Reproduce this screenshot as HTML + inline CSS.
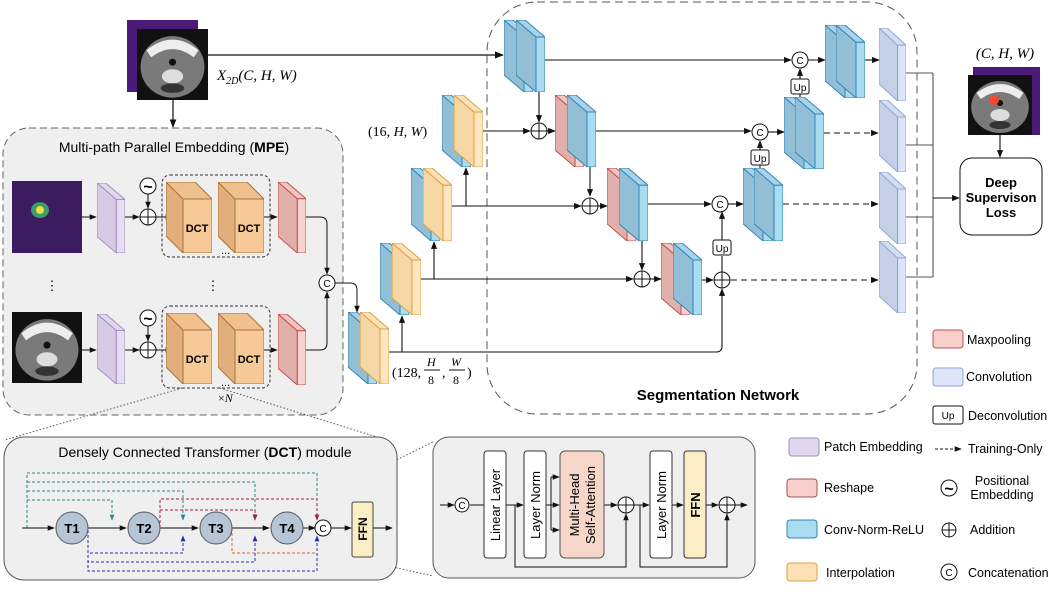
<!DOCTYPE html>
<html><head><meta charset="utf-8"><style>
html,body{margin:0;padding:0;background:#fff}
svg{display:block;font-family:"Liberation Sans",sans-serif}
</style></head><body>
<svg width="1061" height="592" viewBox="0 0 1061 592" xmlns="http://www.w3.org/2000/svg">
<defs>
<marker id="a" viewBox="0 0 10 10" refX="9" refY="5" markerWidth="7" markerHeight="7" orient="auto"><path d="M0,1 L10,5 L0,9 z" fill="#111"/></marker>
<marker id="at" viewBox="0 0 10 10" refX="9" refY="5" markerWidth="6" markerHeight="6" orient="auto"><path d="M0,1 L10,5 L0,9 z" fill="#2a8a8a"/></marker>
<marker id="ar" viewBox="0 0 10 10" refX="9" refY="5" markerWidth="6" markerHeight="6" orient="auto"><path d="M0,1 L10,5 L0,9 z" fill="#a0204a"/></marker>
<marker id="ab" viewBox="0 0 10 10" refX="9" refY="5" markerWidth="6" markerHeight="6" orient="auto"><path d="M0,1 L10,5 L0,9 z" fill="#2030b0"/></marker>
<symbol id="sb" viewBox="0 0 29 72" preserveAspectRatio="none"><g stroke="#2f86b5" stroke-width="1" vector-effect="non-scaling-stroke"><polygon points="0,0 20,17 20,72 0,55" fill="#93bfd6" vector-effect="non-scaling-stroke"/><polygon points="0,0 9,0 29,17 20,17" fill="#a8d3ea" vector-effect="non-scaling-stroke"/><rect x="20" y="17" width="9" height="55" fill="#a9dcf0" vector-effect="non-scaling-stroke"/></g></symbol>
<symbol id="so" viewBox="0 0 29 72" preserveAspectRatio="none"><g stroke="#dca040" stroke-width="1"><polygon points="0,0 20,17 20,72 0,55" fill="#f6d7a6" vector-effect="non-scaling-stroke"/><polygon points="0,0 9,0 29,17 20,17" fill="#fbe2b8" vector-effect="non-scaling-stroke"/><rect x="20" y="17" width="9" height="55" fill="#fde6c0" vector-effect="non-scaling-stroke"/></g></symbol>
<symbol id="sp" viewBox="0 0 29 72" preserveAspectRatio="none"><g stroke="#c05050" stroke-width="1"><polygon points="0,0 20,17 20,72 0,55" fill="#e2b0aa" vector-effect="non-scaling-stroke"/><polygon points="0,0 9,0 29,17 20,17" fill="#f0c4c0" vector-effect="non-scaling-stroke"/><rect x="20" y="17" width="9" height="55" fill="#f8d2cf" vector-effect="non-scaling-stroke"/></g></symbol>
<symbol id="sv" viewBox="0 0 29 72" preserveAspectRatio="none"><g stroke="#a48ebf" stroke-width="1"><polygon points="0,0 20,17 20,72 0,55" fill="#d6cae6" vector-effect="non-scaling-stroke"/><polygon points="0,0 9,0 29,17 20,17" fill="#e0d6ee" vector-effect="non-scaling-stroke"/><rect x="20" y="17" width="9" height="55" fill="#e6ddf2" vector-effect="non-scaling-stroke"/></g></symbol>
<symbol id="sc" viewBox="0 0 29 72" preserveAspectRatio="none"><g stroke="#8ea6d8" stroke-width="1"><polygon points="0,0 20,17 20,72 0,55" fill="#c4d0e6" vector-effect="non-scaling-stroke"/><polygon points="0,0 9,0 29,17 20,17" fill="#d4def2" vector-effect="non-scaling-stroke"/><rect x="20" y="17" width="9" height="55" fill="#dce6f8" vector-effect="non-scaling-stroke"/></g></symbol>
<symbol id="cube" viewBox="0 0 46 71" preserveAspectRatio="none"><g stroke="#a8743a" stroke-width="1"><polygon points="0,0 17,17 17,71 0,54" fill="#e2ae7c" vector-effect="non-scaling-stroke"/><polygon points="0,0 29,0 46,17 17,17" fill="#f0c08e" vector-effect="non-scaling-stroke"/><rect x="17" y="17" width="29" height="54" fill="#f7c997" vector-effect="non-scaling-stroke"/></g></symbol>
<symbol id="ct" viewBox="0 0 60 60" preserveAspectRatio="none"><rect width="60" height="60" fill="#111"/><ellipse cx="30" cy="32" rx="27" ry="26" fill="#7a7a7a"/><path d="M8,18 Q30,0 52,18 L48,24 Q30,10 12,24z" fill="#eee"/><ellipse cx="30" cy="40" rx="9" ry="6" fill="#ddd"/><circle cx="30" cy="28" r="3" fill="#111"/><ellipse cx="30" cy="50" rx="10" ry="4" fill="#333"/></symbol>
</defs>

<!-- top input -->
<rect x="127" y="20" width="71" height="72" fill="#4a1a78"/>
<use href="#ct" x="137" y="29" width="71" height="71"/>
<line x1="208" y1="55" x2="503" y2="55" stroke="#111" stroke-width="1.3" marker-end="url(#a)"/>
<text x="217" y="80" font-family="Liberation Serif,serif" font-style="italic" font-size="15">X<tspan font-size="10" dy="4">2D</tspan><tspan dy="-4">(C, H, W)</tspan></text>
<line x1="173" y1="100" x2="173" y2="127" stroke="#111" stroke-width="1.2" marker-end="url(#a)"/>

<!-- MPE -->
<rect x="3" y="128" width="340" height="287" rx="26" fill="#efefef" stroke="#666" stroke-dasharray="7,4"/>
<text x="174" y="152" font-size="14" text-anchor="middle">Multi-path Parallel Embedding (<tspan font-weight="bold">MPE</tspan>)</text>
<!-- row1 -->
<rect x="12" y="181" width="70" height="72" fill="#3b1c60"/>
<ellipse cx="40" cy="210" rx="9" ry="8" fill="#3e9a6a"/><ellipse cx="40" cy="210" rx="4" ry="4" fill="#e8e040"/>
<line x1="82" y1="217" x2="96" y2="217" stroke="#111" marker-end="url(#a)"/>
<use href="#sv" x="97" y="183" width="28" height="70"/>
<line x1="125" y1="217" x2="139" y2="217" stroke="#111" marker-end="url(#a)"/>
<circle cx="148" cy="186" r="8" fill="#fff" stroke="#111"/><text x="148" y="192" text-anchor="middle" font-size="16" font-weight="bold">~</text>
<line x1="148" y1="194" x2="148" y2="208" stroke="#111" marker-end="url(#a)"/>
<circle cx="148" cy="217" r="8" fill="#fff" stroke="#111"/><path d="M140,217h16M148,209v16" stroke="#111"/>
<line x1="156" y1="217" x2="172" y2="217" stroke="#111" marker-end="url(#a)"/>
<rect x="162" y="175" width="108" height="82" rx="8" fill="none" stroke="#333" stroke-dasharray="3,2"/>
<use href="#cube" x="166" y="182" width="46" height="71"/><text x="197" y="232" font-size="11" font-weight="bold" text-anchor="middle">DCT</text>
<use href="#cube" x="218" y="182" width="46" height="71"/><text x="249" y="232" font-size="11" font-weight="bold" text-anchor="middle">DCT</text>
<text x="221" y="254" font-size="11">...</text>
<line x1="264" y1="217" x2="277" y2="217" stroke="#111" marker-end="url(#a)"/>
<use href="#sp" x="278" y="182" width="28" height="71"/>
<path d="M306,217 H320 Q327,217 327,224 V274" fill="none" stroke="#111" marker-end="url(#a)"/>
<!-- row2 -->
<use href="#ct" x="12" y="312" width="70" height="71"/>
<line x1="82" y1="350" x2="96" y2="350" stroke="#111" marker-end="url(#a)"/>
<use href="#sv" x="97" y="314" width="28" height="70"/>
<line x1="125" y1="350" x2="139" y2="350" stroke="#111" marker-end="url(#a)"/>
<circle cx="148" cy="318" r="8" fill="#fff" stroke="#111"/><text x="148" y="324" text-anchor="middle" font-size="16" font-weight="bold">~</text>
<line x1="148" y1="326" x2="148" y2="341" stroke="#111" marker-end="url(#a)"/>
<circle cx="148" cy="350" r="8" fill="#fff" stroke="#111"/><path d="M140,350h16M148,342v16" stroke="#111"/>
<line x1="156" y1="350" x2="172" y2="350" stroke="#111" marker-end="url(#a)"/>
<rect x="162" y="306" width="108" height="82" rx="8" fill="none" stroke="#333" stroke-dasharray="3,2"/>
<use href="#cube" x="166" y="313" width="46" height="71"/><text x="197" y="363" font-size="11" font-weight="bold" text-anchor="middle">DCT</text>
<use href="#cube" x="218" y="313" width="46" height="71"/><text x="249" y="363" font-size="11" font-weight="bold" text-anchor="middle">DCT</text>
<text x="221" y="386" font-size="11">...</text>
<line x1="264" y1="350" x2="277" y2="350" stroke="#111" marker-end="url(#a)"/>
<use href="#sp" x="278" y="314" width="28" height="71"/>
<path d="M306,350 H320 Q327,350 327,343 V292" fill="none" stroke="#111" marker-end="url(#a)"/>
<text x="52" y="290" font-size="13" text-anchor="middle">⋮</text>
<text x="213" y="290" font-size="13" text-anchor="middle">⋮</text>
<text x="218" y="402" font-family="Liberation Serif,serif" font-size="12">×<tspan font-style="italic">N</tspan></text>
<circle cx="327" cy="283" r="8" fill="#fff" stroke="#111"/><text x="327" y="287" text-anchor="middle" font-size="10">C</text>
<path d="M335,283 H350 Q357,283 357,290 V312" fill="none" stroke="#111" marker-end="url(#a)"/>

<!-- Seg network box -->
<rect x="487" y="2" width="430" height="412" rx="50" fill="none" stroke="#555" stroke-dasharray="8,5"/>
<text x="718" y="400" font-size="15" font-weight="bold" text-anchor="middle">Segmentation Network</text>

<!-- encoder left stacks -->
<use href="#sb" x="348" y="312" width="29" height="72"/><use href="#so" x="360" y="312" width="29" height="72"/>
<use href="#sb" x="380" y="243" width="29" height="72"/><use href="#so" x="392" y="243" width="29" height="72"/>
<use href="#sb" x="411" y="168" width="29" height="73"/><use href="#so" x="423" y="168" width="29" height="73"/>
<use href="#sb" x="442" y="95" width="29" height="72"/><use href="#so" x="454" y="95" width="29" height="72"/>
<text x="368" y="136" font-family="Liberation Serif,serif" font-size="14">(16, <tspan font-style="italic">H</tspan>, <tspan font-style="italic">W</tspan>)</text>
<text x="392" y="377" font-family="Liberation Serif,serif" font-size="14">(128,</text>
<text x="427" y="366" font-family="Liberation Serif,serif" font-size="12" font-style="italic">H</text><line x1="424" y1="370" x2="440" y2="370" stroke="#111"/><text x="428" y="384" font-family="Liberation Serif,serif" font-size="12">8</text>
<text x="442" y="377" font-family="Liberation Serif,serif" font-size="14">,</text>
<text x="451" y="366" font-family="Liberation Serif,serif" font-size="12" font-style="italic">W</text><line x1="449" y1="370" x2="465" y2="370" stroke="#111"/><text x="453" y="384" font-family="Liberation Serif,serif" font-size="12">8</text>
<text x="467" y="377" font-family="Liberation Serif,serif" font-size="14">)</text>

<!-- E0 and encoder -->
<use href="#sb" x="504" y="20" width="29" height="72"/><use href="#sb" x="516" y="20" width="29" height="72"/>
<use href="#sp" x="555" y="95" width="29" height="72"/><use href="#sb" x="567" y="95" width="29" height="72"/>
<use href="#sp" x="607" y="168" width="29" height="73"/><use href="#sb" x="619" y="168" width="29" height="73"/>
<use href="#sp" x="661" y="243" width="29" height="72"/><use href="#sb" x="673" y="243" width="29" height="72"/>
<!-- decoder -->
<use href="#sb" x="825" y="25" width="29" height="73"/><use href="#sb" x="836" y="25" width="29" height="73"/>
<use href="#sb" x="784" y="97" width="29" height="72"/><use href="#sb" x="795" y="97" width="29" height="72"/>
<use href="#sb" x="743" y="168" width="29" height="73"/><use href="#sb" x="754" y="168" width="29" height="73"/>
<!-- light conv -->
<use href="#sc" x="879" y="28" width="27" height="73"/>
<use href="#sc" x="879" y="100" width="27" height="72"/>
<use href="#sc" x="879" y="172" width="27" height="72"/>
<use href="#sc" x="879" y="241" width="27" height="72"/>

<g stroke="#111" stroke-width="1.1" fill="none">
<line x1="483" y1="131" x2="530" y2="131" marker-end="url(#a)"/>
<line x1="452" y1="206" x2="581" y2="206" marker-end="url(#a)"/>
<line x1="466" y1="206" x2="466" y2="168" marker-end="url(#a)"/>
<line x1="421" y1="279" x2="633" y2="279" marker-end="url(#a)"/>
<line x1="434" y1="279" x2="434" y2="242" marker-end="url(#a)"/>
<path d="M389,352 H716 Q722,352 722,346 V289" marker-end="url(#a)"/>
<line x1="402" y1="352" x2="402" y2="316" marker-end="url(#a)"/>
<line x1="539" y1="92" x2="539" y2="122" marker-end="url(#a)"/>
<line x1="547" y1="131" x2="555" y2="131" marker-end="url(#a)"/>
<line x1="596" y1="131" x2="751" y2="131" marker-end="url(#a)"/>
<line x1="590" y1="167" x2="590" y2="196" marker-end="url(#a)"/>
<line x1="598" y1="206" x2="607" y2="206" marker-end="url(#a)"/>
<line x1="648" y1="204" x2="711" y2="204" marker-end="url(#a)"/>
<line x1="642" y1="241" x2="642" y2="270" marker-end="url(#a)"/>
<line x1="650" y1="279" x2="661" y2="279" marker-end="url(#a)"/>
<line x1="702" y1="280" x2="713" y2="280" marker-end="url(#a)"/>
<line x1="722" y1="272" x2="722" y2="256"/>
<line x1="722" y1="240" x2="722" y2="212" marker-end="url(#a)"/>
<line x1="728" y1="204" x2="743" y2="204" marker-end="url(#a)"/>
<line x1="760" y1="168" x2="760" y2="165"/>
<line x1="760" y1="150" x2="760" y2="141" marker-end="url(#a)"/>
<line x1="768" y1="132" x2="784" y2="132" marker-end="url(#a)"/>
<line x1="545" y1="60" x2="791" y2="60" marker-end="url(#a)"/>
<line x1="800" y1="97" x2="800" y2="94"/>
<line x1="800" y1="79" x2="800" y2="69" marker-end="url(#a)"/>
<line x1="808" y1="60" x2="825" y2="60" marker-end="url(#a)"/>
<line x1="865" y1="60" x2="879" y2="60" marker-end="url(#a)"/>
<line x1="824" y1="133" x2="878" y2="133" stroke-dasharray="6,4" marker-end="url(#a)"/>
<line x1="783" y1="204" x2="878" y2="204" stroke-dasharray="6,4" marker-end="url(#a)"/>
<line x1="731" y1="280" x2="878" y2="280" stroke-dasharray="6,4" marker-end="url(#a)"/>
<path d="M906,73 H933 M906,145 H933 M906,217 H933 M906,277 H933 M933,73 V277" stroke="#555"/>
<line x1="933" y1="198" x2="959" y2="198" marker-end="url(#a)"/>
<line x1="1000" y1="135" x2="1000" y2="157" marker-end="url(#a)"/>
</g>
<!-- adds, concats, ups -->
<g fill="#fff" stroke="#111">
<circle cx="539" cy="131" r="8"/><circle cx="590" cy="206" r="8"/><circle cx="642" cy="279" r="8"/><circle cx="722" cy="280" r="8"/>
<circle cx="800" cy="60" r="8"/><circle cx="760" cy="132" r="8"/><circle cx="720" cy="204" r="8"/>
<rect x="791" y="79" width="18" height="15" rx="2"/><rect x="751" y="150" width="18" height="15" rx="2"/><rect x="713" y="240" width="18" height="15" rx="2"/>
</g>
<path d="M531,131h16M539,123v16 M582,206h16M590,198v16 M634,279h16M642,271v16 M714,280h16M722,272v16" stroke="#111"/>
<g font-size="10" text-anchor="middle">
<text x="800" y="64">C</text><text x="760" y="136">C</text><text x="720" y="208">C</text>
<text x="800" y="91">Up</text><text x="760" y="162">Up</text><text x="722" y="252">Up</text>
</g>

<!-- output -->
<text x="1005" y="58" font-family="Liberation Serif,serif" font-style="italic" font-size="15" text-anchor="middle">(C, H, W)</text>
<rect x="973" y="67" width="67" height="68" fill="#4a1a78"/>
<use href="#ct" x="968" y="75" width="64" height="60"/>
<circle cx="994" cy="100" r="5" fill="#f04a30"/>
<rect x="960" y="158" width="82" height="77" rx="12" fill="#fff" stroke="#111"/>
<text x="1001" y="187" font-size="13" font-weight="bold" text-anchor="middle">Deep</text>
<text x="1001" y="202" font-size="13" font-weight="bold" text-anchor="middle">Supervison</text>
<text x="1001" y="217" font-size="13" font-weight="bold" text-anchor="middle">Loss</text>

<!-- legend -->
<g font-size="12.5">
<rect x="933" y="330" width="30" height="18" rx="3" fill="#f8cfcb" stroke="#c05050"/><text x="967" y="344">Maxpooling</text>
<rect x="933" y="368" width="30" height="18" rx="3" fill="#dce6f8" stroke="#8ea6d8"/><text x="966" y="381">Convolution</text>
<rect x="933" y="406" width="30" height="18" rx="2" fill="#fff" stroke="#111"/><text x="948" y="419" font-size="10" text-anchor="middle">Up</text><text x="968" y="420">Deconvolution</text>
<rect x="789" y="438" width="30" height="18" rx="3" fill="#e0d6ee" stroke="#a48ebf"/><text x="824" y="451">Patch Embedding</text>
<line x1="935" y1="449" x2="961" y2="449" stroke="#111" stroke-dasharray="3,2" marker-end="url(#a)"/><text x="968" y="453">Training-Only</text>
<rect x="787" y="479" width="30" height="18" rx="3" fill="#f8cfcb" stroke="#a05050"/><text x="824" y="492">Reshape</text>
<circle cx="949" cy="488" r="8" fill="#fff" stroke="#111"/><text x="949" y="494" text-anchor="middle" font-size="16" font-weight="bold">~</text>
<text x="1002" y="485" text-anchor="middle">Positional</text><text x="1002" y="499" text-anchor="middle">Embedding</text>
<rect x="787" y="520" width="30" height="18" rx="3" fill="#a9dcf0" stroke="#2f86b5"/><text x="824" y="534">Conv-Norm-ReLU</text>
<circle cx="949" cy="530" r="7" fill="#fff" stroke="#111"/><path d="M942,530h14M949,523v14" stroke="#111"/><text x="970" y="534">Addition</text>
<rect x="787" y="563" width="30" height="18" rx="3" fill="#fde0b4" stroke="#dca040"/><text x="826" y="577">Interpolation</text>
<circle cx="949" cy="572" r="8" fill="#fff" stroke="#111"/><text x="949" y="576" text-anchor="middle" font-size="10">C</text><text x="968" y="577">Concatenation</text>
</g>

<!-- dotted zoom lines -->
<g stroke="#555" stroke-dasharray="1.5,2" fill="none">
<line x1="182" y1="388" x2="5" y2="440"/><line x1="220" y1="388" x2="380" y2="438"/>
<line x1="290" y1="512" x2="433" y2="442"/><line x1="290" y1="544" x2="433" y2="576"/>
</g>

<!-- DCT module -->
<rect x="4" y="437" width="393" height="143" rx="20" fill="#efefef" stroke="#555"/>
<text x="205" y="457" font-size="14" text-anchor="middle">Densely Connected Transformer (<tspan font-weight="bold">DCT</tspan>) module</text>
<g fill="none" stroke-dasharray="3,2" stroke-width="1">
<path d="M27,528 V473 H317 V520" stroke="#2a8a8a"/>
<path d="M27,482 H255 V520" stroke="#2a8a8a" marker-end="url(#at)"/>
<path d="M27,491 H183 V520" stroke="#2a8a8a" marker-end="url(#at)"/>
<path d="M27,500 H112 V520" stroke="#2a8a8a" marker-end="url(#at)"/>
<path d="M160,528 V499 H317 V520" stroke="#a0204a" marker-end="url(#ar)"/>
<path d="M160,510 H255 V520" stroke="#a0204a" marker-end="url(#ar)"/>
<path d="M88,530 V553 H183 V536" stroke="#2030b0" marker-end="url(#ab)"/>
<path d="M88,545 V562 H255 V536" stroke="#2030b0" marker-end="url(#ab)"/>
<path d="M88,545 V571 H317 V536" stroke="#2030b0" marker-end="url(#ab)"/>
<path d="M232,528 V553 H317" stroke="#e06030"/>
</g>
<g stroke="#111" fill="none">
<line x1="22" y1="528" x2="54" y2="528" marker-end="url(#a)"/>
<line x1="88" y1="528" x2="126" y2="528" marker-end="url(#a)"/>
<line x1="160" y1="528" x2="198" y2="528" marker-end="url(#a)"/>
<line x1="232" y1="528" x2="269" y2="528" marker-end="url(#a)"/>
<line x1="303" y1="528" x2="315" y2="528" marker-end="url(#a)"/>
<line x1="331" y1="528" x2="351" y2="528" marker-end="url(#a)"/>
<line x1="373" y1="528" x2="392" y2="528" marker-end="url(#a)"/>
</g>
<g fill="#b6c6d6" stroke="#556">
<circle cx="72" cy="528" r="16"/><circle cx="144" cy="528" r="16"/><circle cx="216" cy="528" r="16"/><circle cx="287" cy="528" r="16"/>
</g>
<g font-size="13" font-weight="bold" text-anchor="middle">
<text x="72" y="533">T1</text><text x="144" y="533">T2</text><text x="216" y="533">T3</text><text x="287" y="533">T4</text>
</g>
<circle cx="323" cy="528" r="8" fill="#fff" stroke="#111"/><text x="323" y="532" font-size="10" text-anchor="middle">C</text>
<rect x="352" y="502" width="21" height="55" rx="2" fill="#fbeec4" stroke="#444"/>
<text transform="translate(367,529) rotate(-90)" font-size="12" font-weight="bold" text-anchor="middle">FFN</text>

<!-- transformer detail -->
<rect x="433" y="437" width="322" height="141" rx="16" fill="#efefef" stroke="#555"/>
<g stroke="#111" fill="none">
<line x1="440" y1="505" x2="454" y2="505" marker-end="url(#a)"/>
<line x1="470" y1="505" x2="484" y2="505"/>
<line x1="506" y1="505" x2="523" y2="505" marker-end="url(#a)"/>
<path d="M515,505 V567 H626 V514" marker-end="url(#a)"/>
<line x1="546" y1="505" x2="559" y2="505" marker-end="url(#a)"/>
<path d="M551,477 V530 M551,477 H559 M551,530 H559" />
<line x1="551" y1="477" x2="559" y2="477" marker-end="url(#a)"/>
<line x1="551" y1="530" x2="559" y2="530" marker-end="url(#a)"/>
<line x1="604" y1="505" x2="617" y2="505" marker-end="url(#a)"/>
<line x1="634" y1="505" x2="649" y2="505" marker-end="url(#a)"/>
<path d="M640,505 V567 H727 V514" marker-end="url(#a)"/>
<line x1="672" y1="505" x2="683" y2="505" marker-end="url(#a)"/>
<line x1="706" y1="505" x2="718" y2="505" marker-end="url(#a)"/>
<line x1="735" y1="505" x2="747" y2="505" marker-end="url(#a)"/>
</g>
<circle cx="462" cy="505" r="7" fill="#fff" stroke="#111"/><text x="462" y="509" font-size="10" text-anchor="middle">C</text>
<rect x="484" y="451" width="22" height="107" rx="3" fill="#fff" stroke="#333"/>
<text transform="translate(500,505) rotate(-90)" font-size="13" text-anchor="middle">Linear Layer</text>
<rect x="524" y="451" width="22" height="107" rx="3" fill="#fff" stroke="#333"/>
<text transform="translate(540,505) rotate(-90)" font-size="13" text-anchor="middle">Layer Norm</text>
<rect x="560" y="451" width="44" height="107" rx="5" fill="#f5d6c8" stroke="#555"/>
<text transform="translate(579,505) rotate(-90)" font-size="13" text-anchor="middle">Multi-Head</text>
<text transform="translate(595,505) rotate(-90)" font-size="13" text-anchor="middle">Self-Attention</text>
<rect x="650" y="451" width="22" height="107" rx="3" fill="#fff" stroke="#333"/>
<text transform="translate(666,505) rotate(-90)" font-size="13" text-anchor="middle">Layer Norm</text>
<rect x="684" y="451" width="22" height="107" rx="3" fill="#fbeec4" stroke="#333"/>
<text transform="translate(700,505) rotate(-90)" font-size="13" font-weight="bold" text-anchor="middle">FFN</text>
<circle cx="626" cy="505" r="8" fill="#fff" stroke="#111"/><path d="M618,505h16M626,497v16" stroke="#111"/>
<circle cx="727" cy="505" r="8" fill="#fff" stroke="#111"/><path d="M719,505h16M727,497v16" stroke="#111"/>
</svg>
</body></html>
